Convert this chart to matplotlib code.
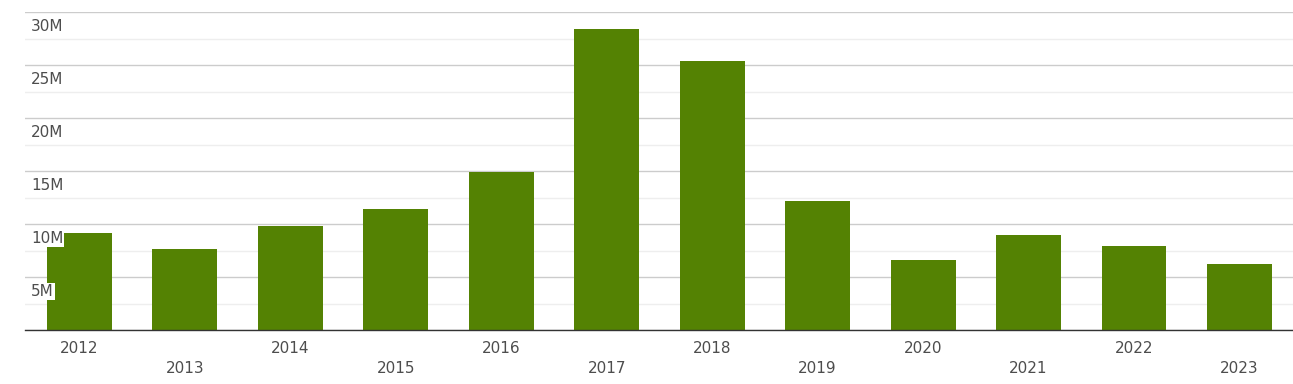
import matplotlib.pyplot as plt
from matplotlib.ticker import MultipleLocator

years = ["2012", "2013", "2014", "2015", "2016", "2017",
         "2018", "2019", "2020", "2021", "2022", "2023"]
values = [9.15, 7.65, 9.8, 11.4, 14.9, 28.4,
          25.4, 12.15, 6.6, 8.95, 7.9, 6.25]  # millions
y_ticks = [5, 10, 15, 20, 25, 30]
y_labels = ["5M", "10M", "15M", "20M", "25M", "30M"]

BAR_COLOR = "#548203"
TEXT_COLOR = "#4d4d4d"


def main():
    fig = plt.figure(figsize=(12.93, 3.84), dpi=100)
    ax = fig.add_axes([25 / 1293, 54 / 384, 1 - 25 / 1293, (330 - 12) / 384])

    x = range(len(years))
    ax.bar(x, values, width=0.616, color=BAR_COLOR, zorder=2)

    ax.set_xlim(-0.517, len(years) - 0.492)
    ax.set_ylim(0, 30)

    # gridlines: major every 5M, lighter minor every 2.5M
    ax.yaxis.set_major_locator(MultipleLocator(5))
    ax.yaxis.set_minor_locator(MultipleLocator(2.5))
    ax.grid(axis="y", which="major", color="#cccccc", linewidth=1, zorder=0)
    ax.grid(axis="y", which="minor", color="#eeeeee", linewidth=1, zorder=0)
    ax.tick_params(axis="y", which="both", left=False, labelleft=False)

    for spine in ["top", "right", "left"]:
        ax.spines[spine].set_visible(False)
    ax.spines["bottom"].set_color("#333333")
    ax.spines["bottom"].set_linewidth(1)
    ax.spines["bottom"].set_zorder(3)

    # y labels sit inside the plot, just under each gridline
    for value, label in zip(y_ticks, y_labels):
        ax.annotate(
            label,
            xy=(0, value),
            xycoords=("axes fraction", "data"),
            xytext=(6, -7),
            textcoords="offset pixels",
            ha="left",
            va="top",
            fontsize=11,
            color=TEXT_COLOR,
            zorder=4,
            bbox=dict(boxstyle="square,pad=0.05", facecolor="white",
                      edgecolor="none"),
        )

    # x labels alternate between two rows
    ax.set_xticks(list(x))
    ax.set_xticklabels(years, fontsize=11, color=TEXT_COLOR)
    ax.tick_params(axis="x", length=0)
    for i, tick in enumerate(ax.xaxis.get_major_ticks()):
        tick.set_pad(8 if i % 2 == 0 else 22.5)

    fig.savefig("out.png", dpi=100)


if __name__ == "__main__":
    main()
